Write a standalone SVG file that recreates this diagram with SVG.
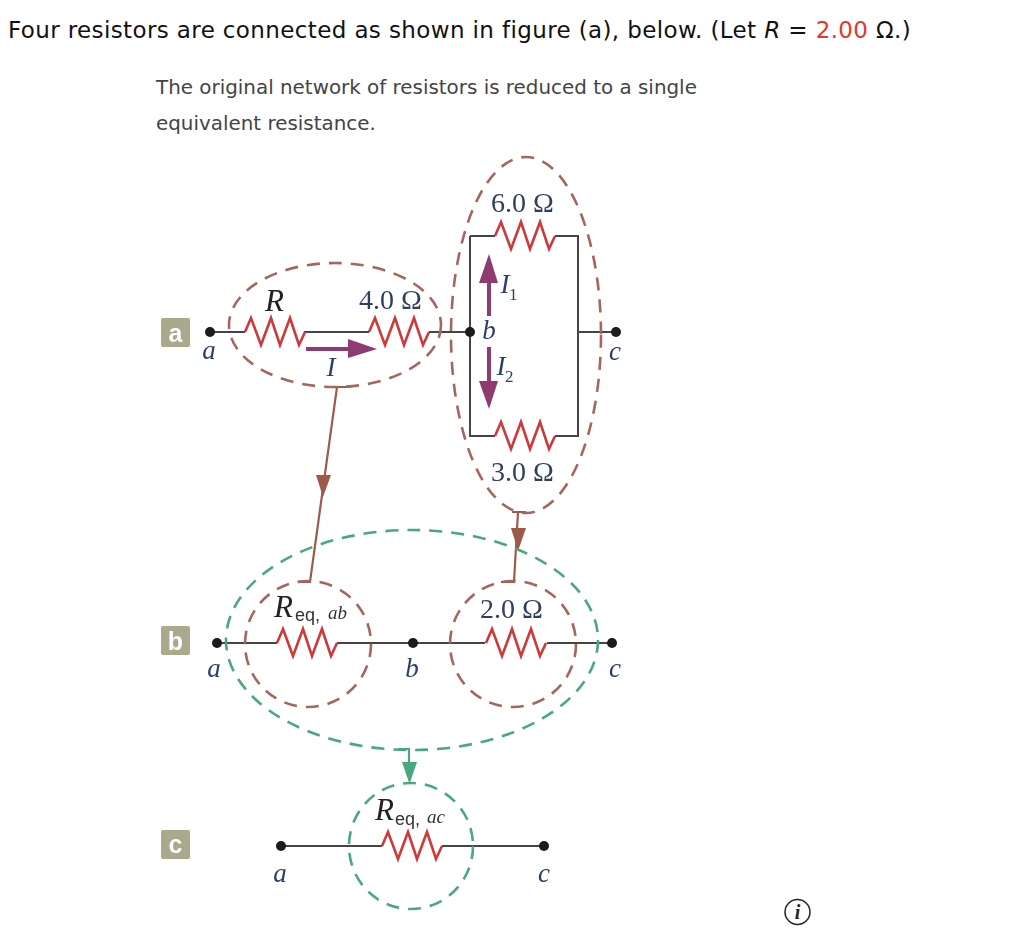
<svg xmlns="http://www.w3.org/2000/svg" width="1024" height="938" viewBox="0 0 1024 938">
<style>
.t{font-family:"DejaVu Sans",Verdana,sans-serif}
.h{font-size:23px;letter-spacing:.38px;fill:#111}
.s{font-size:19.900px;fill:#444}
.w{fill:none;stroke:#444;stroke-width:2}
.r{fill:none;stroke:#cb3a3a;stroke-width:2.6;stroke-linejoin:miter}
.db{fill:none;stroke:#a5665e;stroke-width:2.6;stroke-dasharray:13 9}
.dg{fill:none;stroke:#4aa97c;stroke-width:2.6;stroke-dasharray:13 9}
.lb{fill:none;stroke:#9e5a48;stroke-width:2.2}
.lg{fill:none;stroke:#4aa97c;stroke-width:2.2}
.d{fill:#1a1a1a}
.v{font-family:"Liberation Serif",serif;font-size:28px;fill:#2f3f5c}
.i{font-style:italic;fill:#2c3e6e;font-size:27px;text-anchor:middle}
.n{font-size:17px}
.k{font-family:"Liberation Serif",serif;font-style:italic;font-size:31px;fill:#222}
.e{font-family:"Liberation Sans",sans-serif;font-size:18px;fill:#333}
.u{font-family:"Liberation Serif",serif;font-style:italic;font-size:19px;fill:#333}
.bg{fill:#a9a98b}
.bt{font-family:"Liberation Sans",sans-serif;font-weight:bold;font-size:25px;fill:#fff;text-anchor:middle}
</style>
<defs>
<path id="z" d="M0 0L6 -14L16 13L26 -14L35 13L45 -14L54 13L60 0"/>
<filter id="soft" x="-5%" y="-5%" width="110%" height="110%"><feGaussianBlur stdDeviation="0.5"/></filter>
</defs>
<g id="heading" class="t">
<text class="h" x="8" y="38">Four resistors are connected as shown in figure (a), below. (Let <tspan font-style="italic">R</tspan> = <tspan fill="#e8352b">2.00</tspan> Ω.)</text>
<text class="s" x="156" y="94">The original network of resistors is reduced to a single</text>
<text class="s" x="156" y="130">equivalent resistance.</text>
</g>
<g filter="url(#soft)">
<g id="connectors">
<path class="lb" d="M351 387H337L310 582H298"/>
<path class="lb" d="M512 512H526M518 512L514 582H501"/>
<path class="lg" d="M398 749H409V766"/>
<path d="M316 475H331L323 497Z" fill="#9e5a48"/>
<path d="M511 528H526L518 551Z" fill="#9e5a48"/>
<path d="M402 762H417L409.500 784Z" fill="#4aa97c"/>
</g>
<g id="panel-a">
<g id="badge-a"><rect class="bg" x="161" y="318" width="29" height="29" rx="2"/><text class="bt" x="175.500" y="342">a</text></g>
<path class="w" d="M210 332H245M304 332H369M429 332H470M470 236H495M555 236H578V436H555M495 436H470V236M578 332H616"/>
<circle class="d" cx="210" cy="332" r="5"/><circle class="d" cx="470" cy="332" r="5"/><circle class="d" cx="616" cy="332" r="5"/>
<use href="#z" class="r" x="245" y="332"/><use href="#z" class="r" x="369" y="332"/><use href="#z" class="r" x="495" y="236"/><use href="#z" class="r" x="495" y="436"/>
<ellipse id="group-ab" class="db" cx="335" cy="325" rx="106" ry="62"/>
<ellipse id="group-bc" class="db" cx="526" cy="335" rx="75" ry="178"/>
<g id="current-i" fill="#8e3a72"><path d="M306 349H350" stroke="#8e3a72" stroke-width="4"/><path d="M348 339L377 349L348 358Z"/></g>
<g id="current-i1" fill="#8e3a72"><path d="M489 316V282" stroke="#8e3a72" stroke-width="4"/><path d="M479 283L489 254L498 283Z"/></g>
<g id="current-i2" fill="#8e3a72"><path d="M489 347V382" stroke="#8e3a72" stroke-width="4"/><path d="M479 381L489 409L498 381Z"/></g>
<text class="k" x="265" y="311">R</text>
<text class="v" x="359" y="309">4.0 Ω</text>
<text class="v i" x="209" y="359">a</text>
<text class="v i" x="331" y="376">I</text>
<text class="v" x="491" y="212">6.0 Ω</text>
<text class="v" x="491" y="481">3.0 Ω</text>
<text class="v i" x="505" y="293">I</text><text class="v n" x="509" y="300">1</text>
<text class="v i" x="501" y="375">I</text><text class="v n" x="505" y="382">2</text>
<text class="v i" x="489" y="339">b</text>
<text class="v i" x="615" y="360">c</text>
</g>
<g id="panel-b">
<g id="badge-b"><rect class="bg" x="161" y="626" width="29" height="29" rx="2"/><text class="bt" x="175.500" y="650">b</text></g>
<path class="w" d="M217 643H277M337 643H485M547 643H612"/>
<circle class="d" cx="217" cy="643" r="5"/><circle class="d" cx="413" cy="643" r="5"/><circle class="d" cx="612" cy="643" r="5"/>
<use href="#z" class="r" x="277" y="643"/><use href="#z" class="r" x="486" y="643"/>
<ellipse id="group-req-ab" class="db" cx="308" cy="644" rx="63" ry="63"/>
<ellipse id="group-2ohm" class="db" cx="513" cy="644" rx="63" ry="63"/>
<ellipse id="group-ac" class="dg" cx="412" cy="640" rx="186" ry="110"/>
<text class="k" x="274" y="617">R</text><text class="e" x="295" y="621">eq,</text><text class="u" x="328" y="619">ab</text>
<text class="v" x="480" y="618">2.0 Ω</text>
<text class="v i" x="214" y="677">a</text>
<text class="v i" x="412" y="677">b</text>
<text class="v i" x="615" y="677">c</text>
</g>
<g id="panel-c">
<g id="badge-c"><rect class="bg" x="161" y="830" width="29" height="29" rx="2"/><text class="bt" x="175.500" y="853">c</text></g>
<path class="w" d="M281 846H382M442 846H544"/>
<circle class="d" cx="281" cy="846" r="5"/><circle class="d" cx="544" cy="846" r="5"/>
<use href="#z" class="r" x="382" y="846"/>
<ellipse id="group-req-ac" class="dg" cx="411" cy="846" rx="62" ry="63"/>
<text class="k" x="375" y="820">R</text><text class="e" x="395" y="825">eq,</text><text class="u" x="427" y="823">ac</text>
<text class="v i" x="280" y="882">a</text>
<text class="v i" x="544" y="882">c</text>
</g>
</g>
<g id="info">
<circle cx="797.500" cy="912" r="12.500" fill="none" stroke="#222" stroke-width="1.500"/>
<text x="797.500" y="919" text-anchor="middle" font-family="Liberation Serif,serif" font-style="italic" font-weight="bold" font-size="20" fill="#222">i</text>
</g>
</svg>
